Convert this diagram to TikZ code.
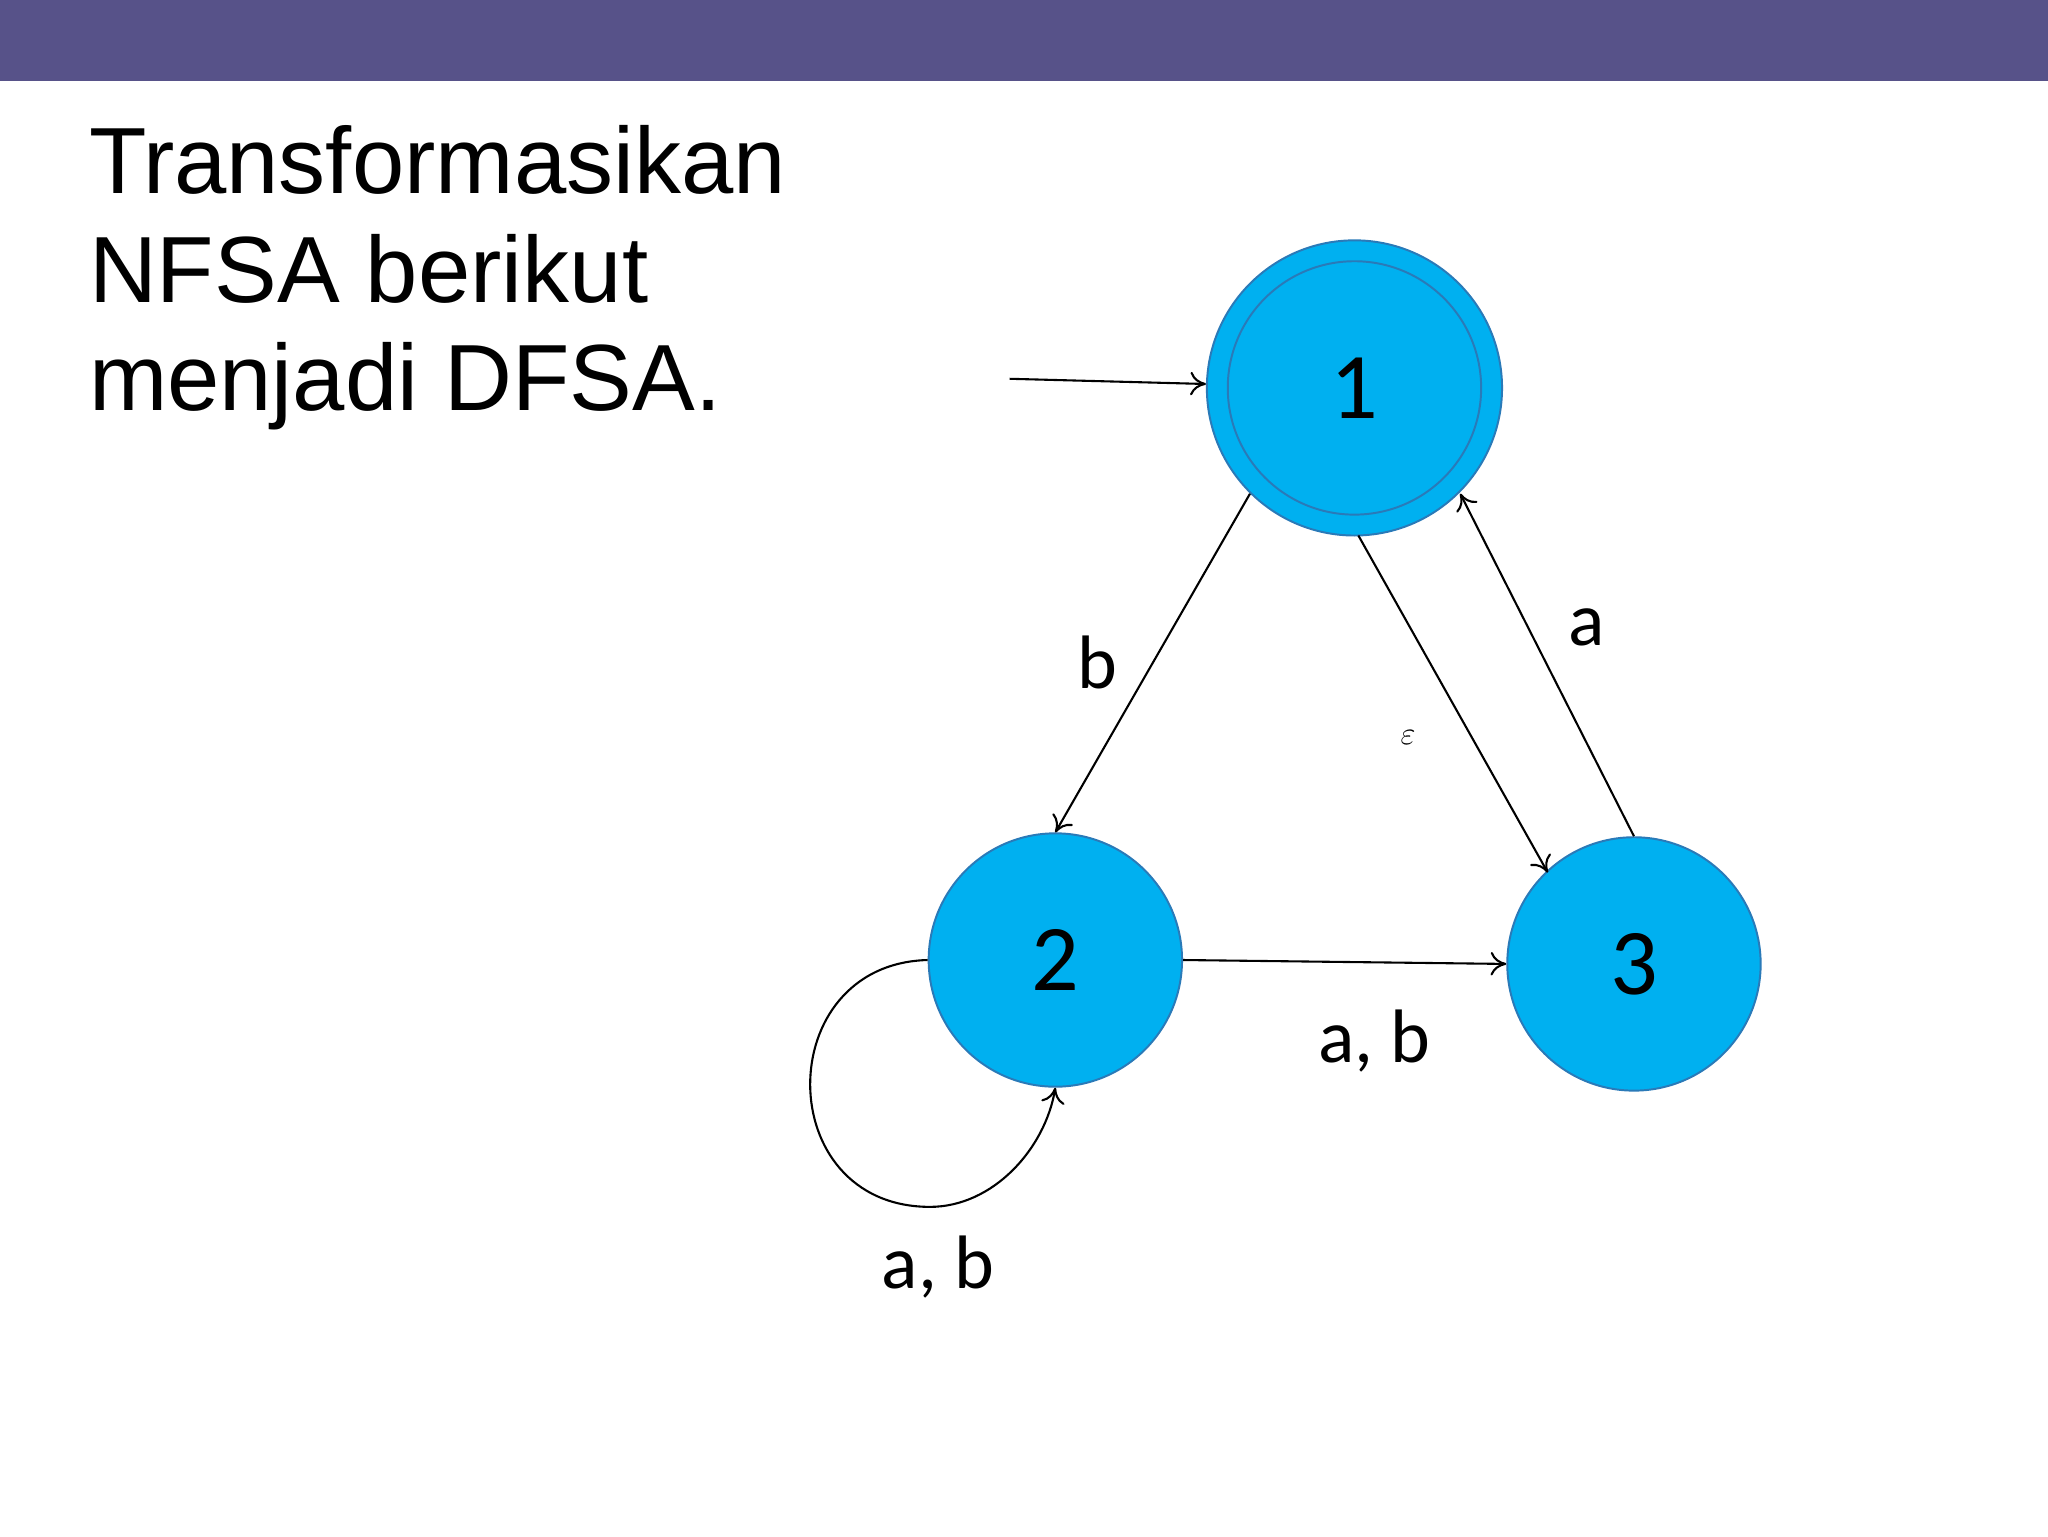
\documentclass[tikz,border=0pt]{standalone}
\usepackage{fontspec}
\setmainfont{Liberation Sans}
\newfontfamily\carlfont{Carlito}
\usetikzlibrary{arrows.meta}
\definecolor{bar}{HTML}{575289}
\definecolor{stfill}{HTML}{00B0F0}
\definecolor{stedge}{HTML}{2A7AB8}
\begin{document}
\begin{tikzpicture}[x=1pt,y=-1pt,
  st/.style={circle,fill=stfill,draw=stedge,line width=1.5pt,minimum size=194pt,inner sep=0pt,font=\carlfont\fontsize{72}{72}\selectfont},
  tr/.style={line width=1.6pt,-{To[length=12pt,width=18pt,line width=1.6pt]}},
  lab/.style={font=\carlfont\fontsize{58}{58}\selectfont}]
\useasboundingbox (0,0) rectangle (1568,1176);
\fill[bar] (0,0) rectangle (1568,62);
\node[anchor=north west,align=left,inner sep=0pt,font=\fontsize{72}{83}\selectfont] (t) at (68,96) {Transformasikan\\NFSA berikut\\menjadi DFSA.};
\node[st,minimum size=226pt] (n1) at (1037,297) {1};
\draw[stedge,line width=1.5pt] (n1.center) circle (97pt);
\node[st] (n2) at (808,735) {2};
\node[st] (n3) at (1251,738) {3};
\coordinate (s) at (773,290);
\draw[tr] (s) -- (n1);
\draw[tr] (957,378) -- (n2.north);
\draw[tr] (1040,410) -- (1185,668);
\draw[tr] (n3.north) -- (1118,378);
\draw[tr] (n2.east) -- (n3.west);
\draw[tr] (n2.west) .. controls (590,738) and (590,924) .. (712,924) .. controls (760,924) and (800,880) .. (n2.south);
\node[lab] (lb) at (840,507) {b};
\node[lab] (le) at (1078,565) {$\varepsilon$};
\node[lab] (la) at (1215,480) {a};
\node[lab] (lab23) at (1052,797) {a, b};
\node[lab] (lloop) at (718,970) {a, b};
\end{tikzpicture}
\end{document}
